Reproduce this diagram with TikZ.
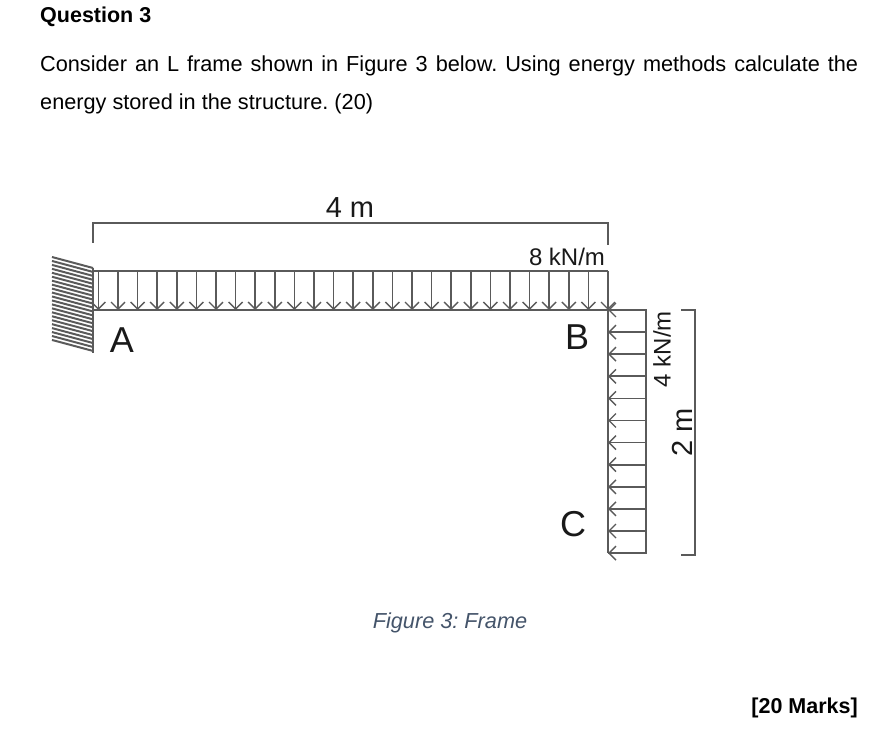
\documentclass[tikz,border=0pt]{standalone}
\usepackage{fontspec}
\setmainfont{Liberation Sans}
\usetikzlibrary{arrows.meta}
\definecolor{framegray}{HTML}{5A5A5A}
\definecolor{captiongray}{HTML}{44546A}
\tikzset{
  framepart/.style={draw=framegray,line width=1.7pt},
  loadarrow/.style={draw=framegray,line width=1.7pt,-{Straight Barb[length=7pt,width=14pt,line width=1.4pt]}},
  hatchline/.style={draw=framegray,line width=2pt},
  bodytext/.style={anchor=west,inner sep=0pt,font=\fontsize{21.7}{24}\selectfont},
  boldtext/.style={inner sep=0pt,font=\fontsize{21.5}{24}\selectfont\bfseries},
  framelabel/.style={inner sep=0pt,text=black!90,font=\fontsize{36}{38}\selectfont},
  dimlabel/.style={inner sep=0pt,text=black!90,font=\fontsize{29}{32}\selectfont},
  loadlabel/.style={inner sep=0pt,text=black!90,font=\fontsize{24}{26}\selectfont},
}
\begin{document}
\begin{tikzpicture}[x=1pt,y=-1pt]
\useasboundingbox (0,0) rectangle (889,730);
\fill[white] (0,0) rectangle (889,730);
% text
\frenchspacing
\node[boldtext,anchor=west] (title) at (40,17) {Question 3};
\node[bodytext] (line1) at (40,66) {\makebox[818pt][s]{Consider an L frame shown in Figure 3 below. Using energy methods calculate the}};
\node[bodytext] (line2) at (40,104) {energy stored in the structure. (20)};
\node[inner sep=0pt,text=captiongray,font=\fontsize{21.7}{24}\selectfont\itshape] (caption) at (450,623) {Figure 3: Frame};
\node[boldtext,anchor=east] (marks) at (858,708) {[20 Marks]};
% wall hatching
\foreach \k in {0,...,21} {
  \draw[hatchline] (52,{257+3.95*\k}) -- (93,{268+3.95*\k});
}
\draw[framepart] (93,268) -- (93,353);
% beam and loading
\draw[framepart] (93,310) -- (608,310) -- (608,553);
\draw[framepart] (93,271) -- (608,271);
\draw[framepart] (608,310) -- (646,310) -- (646,553) -- (608,553);
\foreach \k in {0,...,26} {
  \draw[loadarrow] ({98.4+19.6*\k},271) -- ({98.4+19.6*\k},310);
}
\foreach \k in {0,...,11} {
  \draw[loadarrow] (646,{310+22.1*\k}) -- (608,{310+22.1*\k});
}
% dimensions
\draw[framepart] (93,243) -- (93,223) -- (608,223) -- (608,245);
\draw[framepart] (681,310) -- (695,310) -- (695,555) -- (681,555);
% labels
\node[dimlabel] (dimh) at (350,208) {4 m};
\node[loadlabel] (loadh) at (567,257) {8 kN/m};
\node[framelabel] (A) at (122,340) {A};
\node[framelabel] (B) at (577,337) {B};
\node[framelabel] (C) at (573,524) {C};
\node[loadlabel,rotate=90] (loadv) at (662,349) {4 kN/m};
\node[dimlabel,rotate=90] (dimv) at (682,432) {2 m};
\end{tikzpicture}
\end{document}
